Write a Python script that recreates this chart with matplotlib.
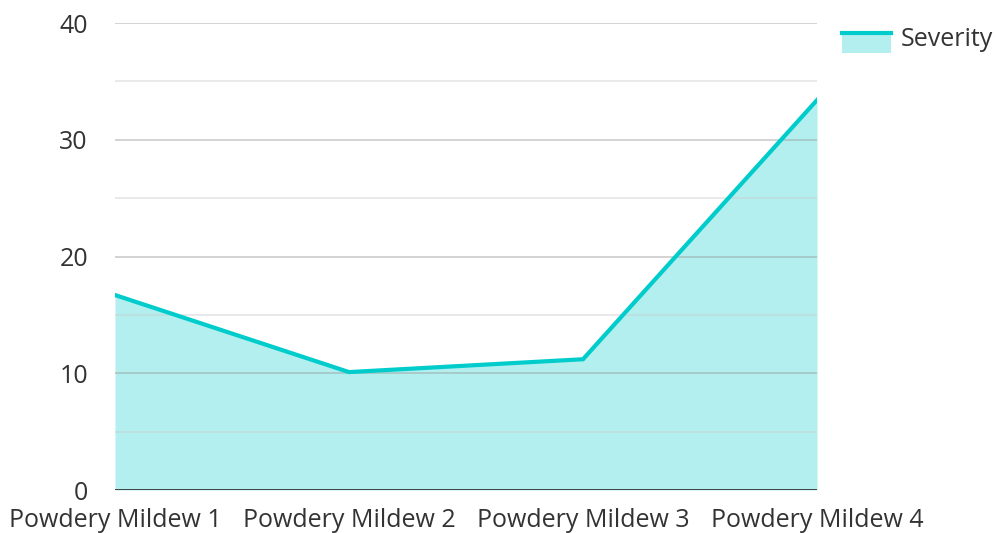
import matplotlib
matplotlib.use("Agg")
import matplotlib.pyplot as plt
from matplotlib.patches import Rectangle
from matplotlib.lines import Line2D
from matplotlib.legend_handler import HandlerBase

plt.rcParams['font.family'] = ['Open Sans', 'DejaVu Sans']

categories = ["Powdery Mildew 1", "Powdery Mildew 2", "Powdery Mildew 3", "Powdery Mildew 4"]
severity = [16.7, 10.1, 11.2, 33.4]
yticks = [0, 10, 20, 30, 40]
minor_ticks = [5, 15, 25, 35]

line_color = "#00CCCC"
fill_color = "#B2EFEE"
text_color = "#333333"

fig = plt.figure(figsize=(9.96, 5.33), dpi=100)
ax = fig.add_axes([115/996, 43/533, (817-115)/996, (490-23)/533])

x = list(range(len(categories)))
ax.fill_between(x, severity, 0, color=fill_color, zorder=1, linewidth=0)
ax.plot(x, severity, color=line_color, linewidth=3, zorder=3, solid_joinstyle='miter')

for t in yticks[1:]:
    ax.axhline(t, color="#999999", alpha=0.5, linewidth=1.2, zorder=2)
for t in minor_ticks:
    ax.axhline(t, color="#cccccc", alpha=0.5, linewidth=1.2, zorder=2)
ax.axhline(0, color="#333333", linewidth=2, zorder=4)

ax.set_xlim(0, len(categories) - 1)
ax.set_ylim(0, 40)
ax.set_yticks(yticks)
ax.set_yticklabels([str(t) for t in yticks])
ax.set_xticks(x)
ax.set_xticklabels(categories)
ax.tick_params(axis='both', length=0, labelsize=18, colors=text_color)
ax.tick_params(axis='y', pad=19.5)
ax.tick_params(axis='x', pad=13)
for s in ax.spines.values():
    s.set_visible(False)


class AreaHandler(HandlerBase):
    def create_artists(self, legend, orig_handle, xdescent, ydescent, width, height, fontsize, trans):
        h = height * 1.15
        y0 = ydescent - 0.45 * height
        rect = Rectangle((xdescent, y0), width, h,
                         facecolor=fill_color, edgecolor='none', transform=trans)
        top = y0 + h
        ln = Line2D([xdescent, xdescent + width], [top, top], color=line_color, linewidth=3,
                    transform=trans)
        return [rect, ln]

handle = Line2D([], [], color=line_color)
leg = fig.legend([handle], ["Severity"], handler_map={Line2D: AreaHandler()},
                 loc='center left', bbox_to_anchor=(842/996, 1 - 39/533), frameon=False,
                 fontsize=18, handlelength=1.96, handletextpad=0.4, labelcolor=text_color,
                 borderaxespad=0, borderpad=0)

fig.savefig("out.png", dpi=100)
